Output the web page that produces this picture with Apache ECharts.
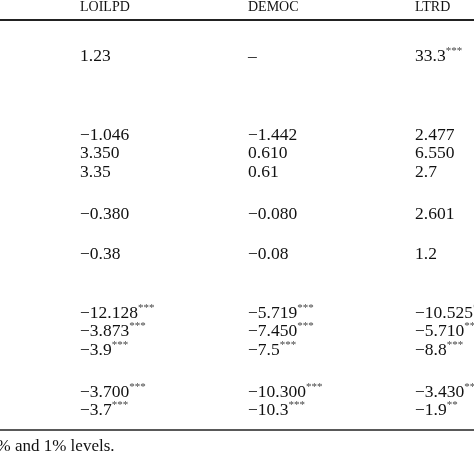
<!DOCTYPE html>
<html><head><meta charset="utf-8">
<script src="https://cdn.jsdelivr.net/npm/echarts@6/dist/echarts.min.js"></script>
<style>html,body{margin:0;padding:0;background:#fff}#c{width:474px;height:474px}</style>
</head><body><div id="c"></div>
<script>
var headers = ["LOILPD", "DEMOC", "LTRD"];
var colX = [80, 248, 415];
var rowY = [56, 135, 153, 172, 214, 254, 313, 331, 350, 392, 410];
// each cell: [value, stars]
var colLOILPD = [["1.23",""],["\u22121.046",""],["3.350",""],["3.35",""],["\u22120.380",""],["\u22120.38",""],
  ["\u221212.128","***"],["\u22123.873","***"],["\u22123.9","***"],["\u22123.700","***"],["\u22123.7","***"]];
var colDEMOC = [["\u2013",""],["\u22121.442",""],["0.610",""],["0.61",""],["\u22120.080",""],["\u22120.08",""],
  ["\u22125.719","***"],["\u22127.450","***"],["\u22127.5","***"],["\u221210.300","***"],["\u221210.3","***"]];
var colLTRD = [["33.3","***"],["2.477",""],["6.550",""],["2.7",""],["2.601",""],["1.2",""],
  ["\u221210.525","***"],["\u22125.710","***"],["\u22128.8","***"],["\u22123.430","***"],["\u22121.9","**"]];
var footnote = "5% and 1% levels.";

var font = "'Liberation Serif', serif";
var cols = [colLOILPD, colDEMOC, colLTRD];
var els = [];
headers.forEach(function (h, i) {
  els.push({type: 'text', x: colX[i], y: 7, style: {text: h, font: "14px " + font, fill: '#111', verticalAlign: 'middle'}});
});
cols.forEach(function (col, i) {
  col.forEach(function (cell, j) {
    els.push({type: 'text', x: colX[i], y: rowY[j], style: {
      text: '{v|' + cell[0] + '}' + (cell[1] ? '{s|' + cell[1] + '}' : ''),
      verticalAlign: 'middle',
      rich: {
        v: {font: "17.5px " + font, fill: '#111'},
        s: {font: "11px " + font, fill: '#444', verticalAlign: 'top', padding: [0, 0, 9, 0]}
      }
    }});
  });
});
els.push({type: 'line', shape: {x1: 0, y1: 20, x2: 474, y2: 20}, style: {stroke: '#222', lineWidth: 2}});
els.push({type: 'line', shape: {x1: 0, y1: 430, x2: 474, y2: 430}, style: {stroke: '#222', lineWidth: 1.5}});
els.push({type: 'text', x: -12, y: 447, style: {text: footnote, font: "17px " + font, fill: '#111', verticalAlign: 'middle'}});

var chart = echarts.init(document.getElementById('c'));
chart.setOption({backgroundColor: '#fff', animation: false, graphic: {elements: els}});
</script></body></html>
